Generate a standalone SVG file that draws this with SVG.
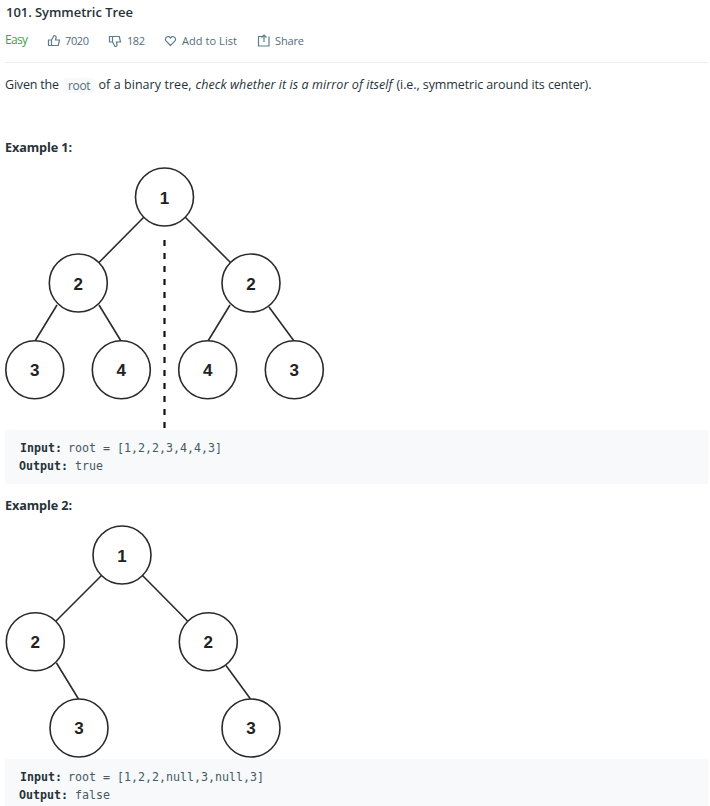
<svg xmlns="http://www.w3.org/2000/svg" width="710" height="806" viewBox="0 0 710 806">
<style>
text{font-family:"Open Sans","Noto Sans","Liberation Sans",sans-serif;fill:#263238}
.t{font-size:13px;font-weight:600}
.m{font-size:11px;fill:#546e7a}
.b{font-size:12.5px;fill:#263238}
.i{font-style:italic}
.h{font-size:12.7px;font-weight:700}
.c{font-family:"DejaVu Sans Mono","Liberation Mono",monospace;font-size:11.63px;fill:#455a64}
.cb{font-family:"DejaVu Sans Mono","Liberation Mono",monospace;font-size:11.63px;font-weight:700;fill:#263238}
.n circle{fill:#fff;stroke:#2a2a2a;stroke-width:1.6}
.n text{font-family:"Liberation Sans",Arial,sans-serif;font-size:17px;font-weight:700;fill:#222;text-anchor:middle}
.e line{stroke:#2a2a2a;stroke-width:1.6}
.ic{fill:none;stroke:#607d8b;stroke-width:1.2}
</style>
<defs>
<path id="thumb" class="ic" d="M48.500 40h3v5.500h-3zM51.500 40l2.500-4.500c1.500 0 2.500 1 2 2.500l-.5 2h4l-1.200 5.500h-6.800"/>
</defs>
<rect width="710" height="806" fill="#fff"/>
<g id="header">
<text x="6" y="17" class="t" textLength="127">101. Symmetric Tree</text>
<text x="5" y="44" textLength="23" style="font-size:12px;fill:#43a047">Easy</text>
<use href="#thumb"/>
<text x="65" y="45" class="m" textLength="24">7020</text>
<use href="#thumb" transform="translate(61 82) scale(1 -1)"/>
<text x="127" y="45" class="m" textLength="18">182</text>
<path class="ic" d="M170.500 45.500l-4.500-4.700c-2.200-3 2.500-6.300 4.500-2.800c2-3.500 6.700-.2 4.500 2.800z"/>
<text x="182" y="45" class="m" textLength="55">Add to List</text>
<path class="ic" d="M262 36.500h-3.500v9.500h10.500v-9.500M264 42v-6.500M261.500 37.500l2.500-2.500l2.500 2.500"/>
<text x="275" y="45" class="m" textLength="29">Share</text>
<rect x="5" y="62" width="703" height="1" fill="#eceff1"/>
</g>
<g id="description">
<text x="5" y="89" class="b" textLength="54">Given the</text>
<rect x="63" y="78" width="31" height="15" rx="3" fill="#f7f9fa"/>
<text x="68" y="90" style="font-size:12px;fill:#546e7a" textLength="22.500">root</text>
<text x="98.500" y="89" class="b" textLength="93">of a binary tree,</text>
<text x="195.500" y="89" class="b i" textLength="197">check whether it is a mirror of itself</text>
<text x="396.500" y="89" class="b" textLength="195">(i.e., symmetric around its center).</text>
<text x="5" y="152" class="h" textLength="67">Example 1:</text>
<text x="5" y="510" class="h" textLength="67">Example 2:</text>
</g>
<g id="connectors" class="e">
<line x1="144" y1="217" x2="98.500" y2="263"/>
<line x1="185" y1="217" x2="231" y2="263"/>
<line x1="57" y1="305" x2="35" y2="341"/>
<line x1="99" y1="305" x2="121" y2="341"/>
<line x1="230" y1="305" x2="208" y2="341"/>
<line x1="269" y1="307" x2="294" y2="341"/>
<line x1="102" y1="575" x2="56" y2="621"/>
<line x1="142" y1="575" x2="187.500" y2="621"/>
<line x1="56.500" y1="663" x2="78.500" y2="699"/>
<line x1="226" y1="665.500" x2="250.500" y2="699"/>
<line x1="164.500" y1="240" x2="164.500" y2="428" style="stroke:#111;stroke-width:2.200;stroke-dasharray:6 7"/>
</g>
<g id="ex1-n1" class="n"><circle cx="164.500" cy="197" r="29"/><text x="164.500" y="203.500">1</text></g>
<g id="ex1-n2" class="n"><circle cx="78.300" cy="283" r="29"/><text x="78.300" y="289.500">2</text></g>
<g id="ex1-n3" class="n"><circle cx="251" cy="283" r="29"/><text x="251" y="289.500">2</text></g>
<g id="ex1-n4" class="n"><circle cx="34.800" cy="369.800" r="29"/><text x="34.800" y="376">3</text></g>
<g id="ex1-n5" class="n"><circle cx="121.300" cy="369.800" r="29"/><text x="121.300" y="376">4</text></g>
<g id="ex1-n6" class="n"><circle cx="207.700" cy="369.800" r="29"/><text x="207.700" y="376">4</text></g>
<g id="ex1-n7" class="n"><circle cx="294.300" cy="369.800" r="29"/><text x="294.300" y="376">3</text></g>
<g id="ex2-n1" class="n"><circle cx="122" cy="555" r="29"/><text x="122" y="561.500">1</text></g>
<g id="ex2-n2" class="n"><circle cx="35.300" cy="641.800" r="29"/><text x="35.300" y="648">2</text></g>
<g id="ex2-n3" class="n"><circle cx="208.300" cy="641.800" r="29"/><text x="208.300" y="648">2</text></g>
<g id="ex2-n4" class="n"><circle cx="79" cy="728" r="29"/><text x="79" y="734">3</text></g>
<g id="ex2-n5" class="n"><circle cx="251" cy="728" r="29"/><text x="251" y="734">3</text></g>
<g id="code1">
<rect x="5" y="430" width="703" height="54" rx="3" fill="#f7f9fa"/>
<text x="20" y="452" class="cb">Input:</text><text x="68" y="452" class="c">root = [1,2,2,3,4,4,3]</text>
<text x="19" y="470" class="cb">Output:</text><text x="75" y="470" class="c">true</text>
</g>
<g id="code2">
<rect x="5" y="759" width="703" height="47" fill="#f7f9fa"/>
<text x="20" y="781" class="cb">Input:</text><text x="68" y="781" class="c">root = [1,2,2,null,3,null,3]</text>
<text x="19" y="799" class="cb">Output:</text><text x="75" y="799" class="c">false</text>
</g>
</svg>
